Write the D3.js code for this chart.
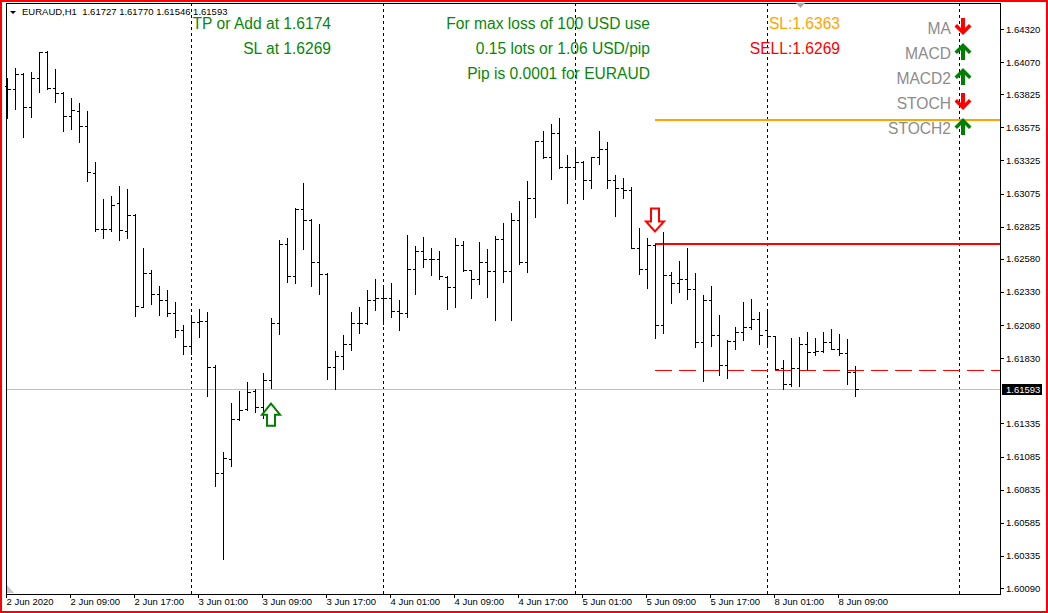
<!DOCTYPE html>
<html>
<head>
<meta charset="utf-8">
<script src="https://cdn.jsdelivr.net/npm/d3@7"></script>
<style>
  body { margin: 0; background: #fff; }
  svg { display: block; font-family: "Liberation Sans", Arial, sans-serif; }
</style>
</head>
<body>
<div id="chart"></div>
<script>
// EURAUD H1 bars, 2 Jun 01:00 .. 8 Jun 11:00
const opens = [1.63889,1.63864,1.63980,1.63728,1.63947,1.64145,1.63876,1.63838,1.63659,1.63700,
  1.63584,1.63228,1.62809,1.62809,1.63001,1.62794,1.62913,1.62219,1.62471,1.62313,
  1.62267,1.62169,1.62040,1.61924,1.62105,1.62110,1.61762,1.60958,1.61065,1.61366,
  1.61442,1.61578,1.61457,1.61662,1.62093,1.62693,1.62451,1.62960,1.62875,1.62557,
  1.62466,1.61762,1.61846,1.61934,1.62093,1.62093,1.62269,1.62282,1.62282,1.62184,
  1.62171,1.62502,1.62638,1.62577,1.62577,1.62446,1.62370,1.62683,1.62496,1.62426,
  1.62557,1.62489,1.62729,1.62491,1.62875,1.62555,1.63039,1.63470,1.63354,1.63531,
  1.63278,1.63278,1.63316,1.63175,1.63351,1.63410,1.63175,1.63115,1.63102,1.62665,
  1.62502,1.62686,1.62080,1.62459,1.62396,1.62426,1.62350,1.61951,1.62267,1.62002,
  1.61775,1.61961,1.62027,1.62063,1.62123,1.62043,1.61997,1.61757,1.61631,1.61757,
  1.61936,1.61874,1.61881,1.61951,1.61899,1.61871,1.61727];
const highs = [1.63947,1.64023,1.63985,1.63992,1.64148,1.64150,1.64015,1.63841,1.63796,1.63758,
  1.63700,1.63311,1.63031,1.63056,1.63132,1.63109,1.62920,1.62661,1.62496,1.62373,
  1.62343,1.62252,1.62078,1.62154,1.62201,1.62176,1.61778,1.61117,1.61488,1.61581,
  1.61649,1.61594,1.61717,1.62131,1.62723,1.62736,1.62963,1.63152,1.62880,1.62844,
  1.62470,1.61881,1.62005,1.62179,1.62216,1.62345,1.62428,1.62381,1.62396,1.62269,
  1.62761,1.62678,1.62744,1.62661,1.62640,1.62450,1.62736,1.62716,1.62500,1.62708,
  1.62653,1.62754,1.62852,1.62928,1.63019,1.63172,1.63473,1.63548,1.63601,1.63644,
  1.63367,1.63425,1.63320,1.63354,1.63548,1.63463,1.63213,1.63193,1.63122,1.62816,
  1.62741,1.62690,1.62782,1.62484,1.62564,1.62661,1.62471,1.62305,1.62375,1.62156,
  1.61967,1.62063,1.62256,1.62277,1.62181,1.62199,1.62000,1.61815,1.61979,1.61987,
  1.62025,1.61984,1.62025,1.62050,1.62010,1.61974,1.61770];
const lows = [1.63644,1.63715,1.63505,1.63656,1.63841,1.63864,1.63770,1.63550,1.63566,1.63467,
  1.63172,1.62791,1.62741,1.62794,1.62726,1.62741,1.62148,1.62214,1.62241,1.62156,
  1.62150,1.61992,1.61863,1.61863,1.61992,1.61545,1.60864,1.60307,1.61015,1.61359,
  1.61439,1.61424,1.61376,1.61606,1.62010,1.62408,1.62396,1.62658,1.62378,1.62317,
  1.61674,1.61596,1.61750,1.61891,1.62020,1.62090,1.62194,1.62088,1.62143,1.62042,
  1.62138,1.62317,1.62521,1.62460,1.62428,1.62204,1.62219,1.62489,1.62287,1.62393,
  1.62294,1.62120,1.62408,1.62120,1.62540,1.62484,1.62900,1.63342,1.63185,1.63266,
  1.63006,1.63183,1.63031,1.63119,1.63296,1.63119,1.62907,1.63039,1.62661,1.62464,
  1.62362,1.61984,1.62017,1.62244,1.62332,1.62275,1.61911,1.61659,1.61924,1.61702,
  1.61677,1.61896,1.61964,1.62048,1.61934,1.61916,1.61745,1.61594,1.61619,1.61619,
  1.61739,1.61853,1.61874,1.61896,1.61853,1.61631,1.61546];
const closes = [1.63864,1.63980,1.63728,1.63947,1.64145,1.63876,1.63838,1.63659,1.63705,1.63584,
  1.63236,1.62807,1.62809,1.62990,1.62801,1.62913,1.62222,1.62471,1.62313,1.62267,
  1.62169,1.62040,1.61924,1.62105,1.62110,1.61762,1.60958,1.61072,1.61369,1.61437,
  1.61571,1.61457,1.61662,1.62093,1.62693,1.62451,1.62960,1.62875,1.62557,1.62466,
  1.61762,1.61846,1.61934,1.62093,1.62093,1.62269,1.62282,1.62282,1.62184,1.62171,
  1.62502,1.62638,1.62577,1.62577,1.62451,1.62370,1.62683,1.62496,1.62426,1.62557,
  1.62489,1.62729,1.62491,1.62875,1.62557,1.63039,1.63470,1.63354,1.63531,1.63278,
  1.63278,1.63316,1.63175,1.63351,1.63410,1.63175,1.63115,1.63102,1.62665,1.62502,
  1.62686,1.62080,1.62459,1.62396,1.62426,1.62350,1.61951,1.62267,1.62002,1.61780,
  1.61961,1.62027,1.62063,1.62123,1.62005,1.61997,1.61750,1.61631,1.61757,1.61936,
  1.61874,1.61881,1.61951,1.61899,1.61871,1.61725,1.61593];

// price axis labels (MT4 style)
const priceTicks = [1.64320,1.64070,1.63825,1.63575,1.63325,1.63075,1.62825,1.62580,1.62330,
  1.62080,1.61830,1.61335,1.61085,1.60835,1.60585,1.60335,1.60090];

// time axis: bar index of each label
const timeTickBars = [0,8,16,24,32,40,48,56,64,72,80,88,96,104];
const timeLabels = ["2 Jun 2020","2 Jun 09:00","2 Jun 17:00","3 Jun 01:00","3 Jun 09:00",
  "3 Jun 17:00","4 Jun 01:00","4 Jun 09:00","4 Jun 17:00","5 Jun 01:00","5 Jun 09:00",
  "5 Jun 17:00","8 Jun 01:00","8 Jun 09:00"];

// day separators (bar index of 00:00)
const daySeparators = [23,47,71,95,119];

// signal arrows and trade levels
const signals = [{bar:33, type:"buy"}, {bar:81, type:"sell"}];
const slLevel = 1.6363, sellLevel = 1.6269, tpLevel = 1.6174, levelStartBar = 81;

const infoLines = ["For max loss of 100 USD use", "0.15 lots or 1.06 USD/pip", "Pip is 0.0001 for EURAUD"];
const tpLines = ["TP or Add at 1.6174", "SL at 1.6269"];
const indicators = ["MA","MACD","MACD2","STOCH","STOCH2"];
const indicatorDirs = ["down","up","up","down","up"];

const W = 1048, H = 613;
const plot = {left: 6, right: 1000, top: 3, bottom: 594};
const bigFont = 15.6;

const svg = d3.select("#chart").append("svg")
  .attr("width", W).attr("height", H);

svg.append("rect").attr("width", W).attr("height", H).attr("fill", "#fff");

const x = d3.scaleLinear().domain([0, 119]).range([7, 959]);
const y = d3.scaleLinear().domain([1.60090, 1.64320]).range([588, 29]);
const px = v => Math.round(x(v)) + 0.5;
const py = v => Math.round(y(v)) + 0.5;

// day separators
svg.append("g").selectAll("line").data(daySeparators).join("line")
  .attr("x1", d => px(d)).attr("x2", d => px(d))
  .attr("y1", plot.top).attr("y2", plot.bottom)
  .attr("stroke", "#000").attr("stroke-width", 1).attr("stroke-dasharray", "3,3");

// current price line
const last = closes[closes.length - 1];
svg.append("line")
  .attr("x1", plot.left).attr("x2", plot.right)
  .attr("y1", py(last)).attr("y2", py(last))
  .attr("stroke", "#c0c0c0");

// trade levels
const xLevel = Math.round(x(levelStartBar));
svg.append("line").attr("x1", xLevel).attr("x2", plot.right)
  .attr("y1", Math.round(y(slLevel))).attr("y2", Math.round(y(slLevel)))
  .attr("stroke", "#ffa500").attr("stroke-width", 2);
svg.append("line").attr("x1", xLevel).attr("x2", plot.right)
  .attr("y1", Math.round(y(sellLevel))).attr("y2", Math.round(y(sellLevel)))
  .attr("stroke", "#ff0000").attr("stroke-width", 2);
svg.append("line").attr("x1", xLevel).attr("x2", plot.right)
  .attr("y1", py(tpLevel)).attr("y2", py(tpLevel))
  .attr("stroke", "#ff0000").attr("stroke-width", 1).attr("stroke-dasharray", "17,7");

// OHLC bars
const bars = svg.append("g").attr("stroke", "#000").attr("stroke-width", 1)
  .attr("shape-rendering", "crispEdges");
const idx = d3.range(opens.length);
bars.selectAll("line.hl").data(idx).join("line").attr("class", "hl")
  .attr("x1", i => px(i)).attr("x2", i => px(i))
  .attr("y1", i => Math.round(y(highs[i]))).attr("y2", i => Math.round(y(lows[i])) + 1);
bars.selectAll("line.op").data(idx).join("line").attr("class", "op")
  .attr("x1", i => px(i) - 3).attr("x2", i => px(i))
  .attr("y1", i => py(opens[i])).attr("y2", i => py(opens[i]));
bars.selectAll("line.cl").data(idx).join("line").attr("class", "cl")
  .attr("x1", i => px(i)).attr("x2", i => px(i) + 3.5)
  .attr("y1", i => py(closes[i])).attr("y2", i => py(closes[i]));

// hollow signal arrows
signals.forEach(s => {
  const cx = x(s.bar);
  let pts;
  if (s.type === "buy") {
    const t = y(lows[s.bar]) + 16;
    pts = [[cx, t], [cx + 9, t + 11], [cx + 4, t + 11], [cx + 4, t + 22], [cx - 4, t + 22], [cx - 4, t + 11], [cx - 9, t + 11]];
  } else {
    const b = y(highs[s.bar]) - 13;
    pts = [[cx, b], [cx + 9, b - 10], [cx + 4, b - 10], [cx + 4, b - 23], [cx - 4, b - 23], [cx - 4, b - 10], [cx - 9, b - 10]];
  }
  svg.append("polygon").attr("points", pts.map(p => p.join(",")).join(" "))
    .attr("fill", "#fff").attr("stroke", s.type === "buy" ? "#008000" : "#ff0000")
    .attr("stroke-width", 2);
});

// frame
svg.append("rect").attr("x", plot.left + 0.5).attr("y", plot.top + 0.5)
  .attr("width", plot.right - plot.left).attr("height", plot.bottom - plot.top)
  .attr("fill", "none").attr("stroke", "#000");
// scroll marker in lower-left corner
svg.append("path").attr("d", "M7,585 L7,593 L14,593 Z").attr("fill", "#c8c8c8");

// price axis
const yAxis = svg.append("g");
yAxis.selectAll("line").data(priceTicks).join("line")
  .attr("x1", plot.right).attr("x2", plot.right + 4)
  .attr("y1", d => py(d)).attr("y2", d => py(d)).attr("stroke", "#000");
yAxis.selectAll("text").data(priceTicks).join("text")
  .attr("x", plot.right + 6).attr("y", d => y(d) + 3.5)
  .attr("font-size", 9.5).attr("fill", "#000")
  .text(d => d.toFixed(5));

// current price label
svg.append("rect").attr("x", plot.right + 2).attr("y", Math.round(y(last)) - 5)
  .attr("width", 40).attr("height", 11).attr("fill", "#000");
svg.append("text").attr("x", plot.right + 6).attr("y", y(last) + 3.5)
  .attr("font-size", 9.5).attr("fill", "#fff").text(last.toFixed(5));

// time axis
const xAxis = svg.append("g");
xAxis.selectAll("line").data(timeTickBars).join("line")
  .attr("x1", d => px(d) - 1).attr("x2", d => px(d) - 1)
  .attr("y1", plot.bottom).attr("y2", plot.bottom + 4).attr("stroke", "#000");
xAxis.selectAll("text").data(timeTickBars).join("text")
  .attr("x", d => x(d) - 0.5).attr("y", 605)
  .attr("font-size", 9.5).attr("fill", "#000")
  .text((d, i) => timeLabels[i]);

// header
svg.append("path").attr("d", "M10,11 L16,11 L13,14 Z").attr("fill", "#000");
svg.append("text").attr("x", 22).attr("y", 15).attr("font-size", 9.5).attr("fill", "#000")
  .attr("xml:space", "preserve")
  .text("EURAUD,H1  " + [opens, highs, lows, closes].map(a => a[a.length - 1].toFixed(5)).join(" "));

// chart shift marker
svg.append("path").attr("d", "M796,3 L805,3 L800.5,8 Z").attr("fill", "#a8a8a8");

// info texts
const green = "#0a870a";
svg.append("g").selectAll("text").data(tpLines).join("text")
  .attr("x", 331).attr("y", (d, i) => 29 + i * 25)
  .attr("text-anchor", "end").attr("font-size", bigFont).attr("fill", green).text(d => d);
svg.append("g").selectAll("text").data(infoLines).join("text")
  .attr("x", 650).attr("y", (d, i) => 29 + i * 25)
  .attr("text-anchor", "end").attr("font-size", bigFont).attr("fill", green).text(d => d);
svg.append("text").attr("x", 840).attr("y", 29).attr("text-anchor", "end")
  .attr("font-size", bigFont).attr("fill", "#ffa500").text("SL:" + slLevel.toFixed(4));
svg.append("text").attr("x", 840).attr("y", 54).attr("text-anchor", "end")
  .attr("font-size", bigFont).attr("fill", "#ff0000").text("SELL:" + sellLevel.toFixed(4));

// indicator panel
const ind = svg.append("g");
ind.selectAll("text").data(indicators).join("text")
  .attr("x", 951).attr("y", (d, i) => 34 + i * 25)
  .attr("text-anchor", "end").attr("font-size", bigFont).attr("fill", "#8c8c8c").text(d => d);
ind.selectAll("path").data(indicatorDirs).join("path")
  .attr("d", (d, i) => {
    const cx = 963, t = 18 + i * 25;
    const down = [[cx-2,t],[cx+2,t],[cx+2,t+10],[cx+6,t+6],[cx+8.5,t+8.5],[cx,t+17],[cx-8.5,t+8.5],[cx-6,t+6],[cx-2,t+10]];
    const pts = d === "down" ? down : down.map(p => [p[0], 2 * t + 17 - p[1]]);
    return "M" + pts.map(p => p.join(",")).join("L") + "Z";
  })
  .attr("fill", d => d === "down" ? "#ff0000" : "#008000");

// window border
svg.append("rect").attr("x", 1).attr("y", 1).attr("width", W - 2).attr("height", H - 2)
  .attr("fill", "none").attr("stroke", "#ff0000").attr("stroke-width", 2);
</script>
</body>
</html>
